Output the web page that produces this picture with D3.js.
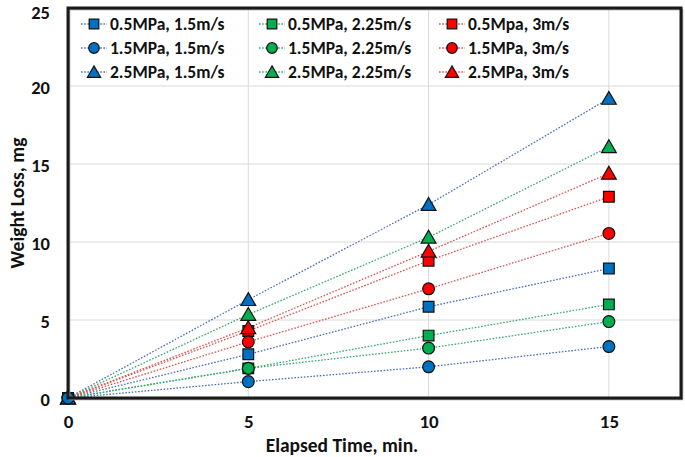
<!DOCTYPE html>
<html>
<head>
<meta charset="utf-8">
<script src="https://cdn.jsdelivr.net/npm/d3@7"></script>
<style>
  body { margin: 0; background: #fff; }
  svg text { font-family: "Carlito", "Liberation Sans Narrow", "Noto Sans", sans-serif; font-weight: bold; fill: #111; }
</style>
</head>
<body>
<div id="chart"></div>
<script>
// elapsed time (min)
const times = [0, 5, 10, 15];

// weight loss (mg) per series
const sq_15 = [0, 2.8, 5.85, 8.3];
const ci_15 = [0, 1.05, 2.0, 3.3];
const tr_15 = [0, 6.3, 12.4, 19.2];
const sq_225 = [0, 1.9, 4.0, 6.0];
const ci_225 = [0, 1.9, 3.2, 4.9];
const tr_225 = [0, 5.35, 10.3, 16.1];
const sq_3 = [0, 4.3, 8.8, 12.9];
const ci_3 = [0, 3.6, 7.0, 10.55];
const tr_3 = [0, 4.5, 9.4, 14.4];

const seriesNames = [
  "0.5MPa, 1.5m/s", "1.5MPa, 1.5m/s", "2.5MPa, 1.5m/s",
  "0.5MPa, 2.25m/s", "1.5MPa, 2.25m/s", "2.5MPa, 2.25m/s",
  "0.5Mpa, 3m/s", "1.5MPa, 3m/s", "2.5MPa, 3m/s"
];
const seriesValues = [sq_15, ci_15, tr_15, sq_225, ci_225, tr_225, sq_3, ci_3, tr_3];
const seriesShapes = ["square", "circle", "triangle", "square", "circle", "triangle", "square", "circle", "triangle"];
const seriesGroup = [0, 0, 0, 1, 1, 1, 2, 2, 2];

const xTicks = [0, 5, 10, 15];
const yTicks = [0, 5, 10, 15, 20, 25];

const markerFill = ["#0070C0", "#00B050", "#FF0000"];
const lineColor = ["#4a6fb8", "#3aa870", "#d9534f"];

const W = 685, H = 457;
const margin = { top: 8, right: 4, bottom: 59, left: 68 };
const width = W - margin.left - margin.right,
      height = H - margin.top - margin.bottom;

const svg = d3.select("#chart").append("svg")
  .attr("width", W)
  .attr("height", H);

const g = svg.append("g")
  .attr("transform", `translate(${margin.left},${margin.top})`);

const x = d3.scaleLinear().domain([0, 17]).range([0, width]);
const y = d3.scaleLinear().domain([0, 25]).range([height, 0]);

// grid
g.selectAll("line.vgrid")
  .data(xTicks.slice(1))
  .enter().append("line")
  .attr("x1", d => x(d)).attr("x2", d => x(d))
  .attr("y1", 0).attr("y2", height)
  .attr("stroke", "#d9d9d9").attr("stroke-width", 1);

g.selectAll("line.hgrid")
  .data(yTicks.slice(1))
  .enter().append("line")
  .attr("x1", 0).attr("x2", width)
  .attr("y1", d => y(d)).attr("y2", d => y(d))
  .attr("stroke", "#d9d9d9").attr("stroke-width", 1);

// axes (labels only, frame drawn separately)
const xAxis = g.append("g")
  .attr("transform", `translate(0,${height})`)
  .call(d3.axisBottom(x).tickValues(xTicks).tickSize(0).tickPadding(17));
xAxis.select(".domain").remove();
xAxis.selectAll("text").style("font-size", "19px").attr("fill", "#111");

const yAxis = g.append("g")
  .call(d3.axisLeft(y).tickValues(yTicks).tickSize(0).tickPadding(18));
yAxis.select(".domain").remove();
// top label nudged down so it stays inside the page
yAxis.selectAll("text").style("font-size", "18.5px").attr("fill", "#111")
  .attr("dy", d => d === 25 ? "0.55em" : "0.4em");

// lines
const line = d3.line()
  .x((d, i) => x(times[i]))
  .y(d => y(d));

g.selectAll("path.series")
  .data(seriesValues)
  .enter().append("path")
  .attr("class", "series")
  .attr("d", d => line(d))
  .attr("fill", "none")
  .attr("stroke", (d, i) => lineColor[seriesGroup[i]])
  .attr("stroke-width", 1.3)
  .attr("stroke-dasharray", "1.6,1.6");

const symbolFor = s => s === "square" ? d3.symbolSquare : s === "circle" ? d3.symbolCircle : d3.symbolTriangle;
const sizeFor = s => s === "square" ? 115 : s === "circle" ? 110 : 95;

function drawMarker(sel, i, k) {
  sel.append("path")
    .attr("d", d3.symbol().type(symbolFor(seriesShapes[i])).size(sizeFor(seriesShapes[i]) * k)())
    .attr("fill", markerFill[seriesGroup[i]])
    .attr("stroke", "#111")
    .attr("stroke-width", 1.2);
}

const order = [6, 7, 8, 3, 4, 5, 0, 2, 1];
order.forEach(i => {
  seriesValues[i].forEach((v, j) => {
    const m = g.append("g")
      .attr("transform", `translate(${x(times[j])},${y(v) + (seriesShapes[i] === "triangle" ? 1.5 : 0)})`);
    drawMarker(m, i, 1);
  });
});

// legend
const legCols = [94, 272, 452];
const legRows = [24, 48, 72];
seriesNames.forEach((name, i) => {
  const col = seriesGroup[i], row = i % 3;
  const lg = svg.append("g")
    .attr("transform", `translate(${legCols[col]},${legRows[row]})`);
  lg.append("line")
    .attr("x1", -13).attr("x2", 13)
    .attr("stroke", lineColor[col])
    .attr("stroke-width", 1.3)
    .attr("stroke-dasharray", "1.6,1.6");
  const m = lg.append("g")
    .attr("transform", `translate(0,${seriesShapes[i] === "triangle" ? 1.5 : 0})`);
  drawMarker(m, i, 0.8);
  lg.append("text")
    .attr("x", 16)
    .attr("dy", "0.35em")
    .style("font-size", "17.5px")
    .text(name);
});

// frame
g.append("rect")
  .attr("x", 1.5).attr("y", 1.5)
  .attr("width", width).attr("height", height)
  .attr("fill", "none")
  .attr("stroke", "#999")
  .attr("stroke-width", 1.5);
g.append("rect")
  .attr("x", 0).attr("y", 0)
  .attr("width", width).attr("height", height)
  .attr("fill", "none")
  .attr("stroke", "#1a1a1a")
  .attr("stroke-width", 3);

// axis titles
svg.append("text")
  .attr("x", 342)
  .attr("y", 452)
  .attr("text-anchor", "middle")
  .style("font-size", "19.5px")
  .text("Elapsed Time, min.");

svg.append("text")
  .attr("transform", `translate(24,${margin.top + height / 2}) rotate(-90)`)
  .attr("text-anchor", "middle")
  .style("font-size", "19.5px")
  .text("Weight Loss, mg");
</script>
</body>
</html>
